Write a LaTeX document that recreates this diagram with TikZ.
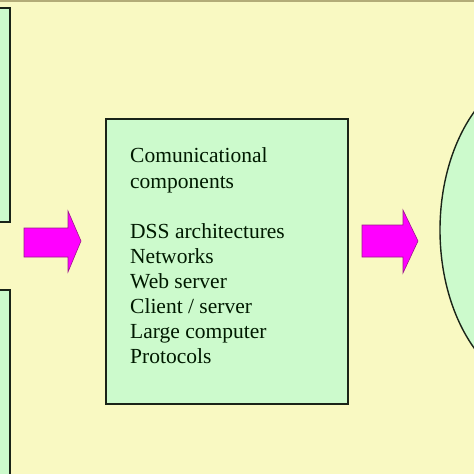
\documentclass[tikz,border=0pt]{standalone}
\usepackage{fontspec}
\setmainfont{Liberation Serif}
\definecolor{bgyellow}{HTML}{F9F9C2}
\definecolor{boxgreen}{HTML}{CCFACC}
\definecolor{boxline}{HTML}{1A2418}
\definecolor{topline}{HTML}{B3AC78}
\definecolor{arrowfill}{HTML}{FF00FF}
\definecolor{arrowline}{HTML}{9A1A8A}
\tikzset{
  panel/.style={draw=boxline, line width=1.8pt, fill=boxgreen},
  blockarrow/.style={draw=arrowline, line width=0.6pt, fill=arrowfill, line join=miter},
  listtext/.style={anchor=base west, inner sep=0pt, font=\fontsize{21.5}{25}\selectfont, text=black!90!green}
}
\begin{document}
\begin{tikzpicture}[x=1pt,y=-1pt]
  \useasboundingbox (0,0) rectangle (474,474);
  \clip (0,0) rectangle (474,474);
  \fill[bgyellow] (0,0) rectangle (474,474);
  \fill[topline] (0,0) rectangle (474,2);
  % left partial boxes
  \draw[panel] (-10,8) rectangle (10,222);
  \draw[panel] (-10,290) rectangle (10,490);
  % center box
  \node[panel, inner sep=0pt, anchor=north west, minimum width=242pt, minimum height=285pt] (center) at (105,118) {};
  % right ellipse
  \draw[draw=boxline, line width=1.4pt, fill=boxgreen] (545,230) ellipse [x radius=105, y radius=160];
  % block arrows
  \draw[blockarrow] (24,228) -- (68,228) -- (68,211) -- (81,241) -- (68,272) -- (68,257) -- (24,257) -- cycle;
  \draw[blockarrow] (362,225) -- (403,225) -- (403,210) -- (418,241) -- (403,273) -- (403,257) -- (362,257) -- cycle;
  % texts
  \node[listtext] (t1) at (130,162) {Comunicational};
  \node[listtext] (t2) at (130,188) {components};
  \node[listtext] (t3) at (130,238) {DSS architectures};
  \node[listtext] (t4) at (130,263) {Networks};
  \node[listtext] (t5) at (130,288) {Web server};
  \node[listtext] (t6) at (130,313) {Client / server};
  \node[listtext] (t7) at (130,338) {Large computer};
  \node[listtext] (t8) at (130,363) {Protocols};
\end{tikzpicture}
\end{document}
